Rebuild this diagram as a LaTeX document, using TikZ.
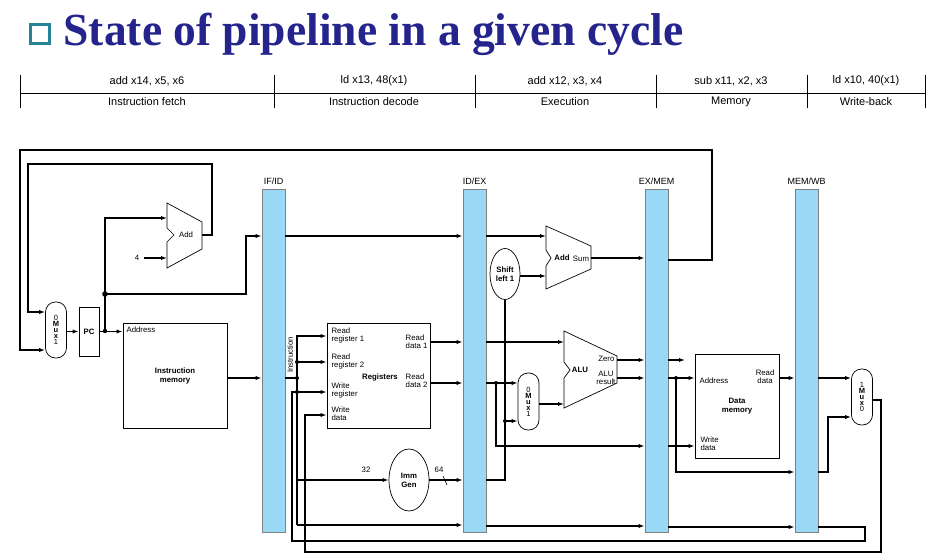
\documentclass[tikz,border=0pt]{standalone}
\usepackage{fontspec}
\setmainfont{Liberation Sans}
\newfontfamily\titlefont{Liberation Serif}
\usetikzlibrary{arrows.meta,positioning,shapes.geometric}
\definecolor{regblue}{RGB}{154,217,245}
\definecolor{titleblue}{RGB}{36,36,140}
\definecolor{boxteal}{RGB}{40,130,150}

\begin{document}
\begin{tikzpicture}[x=1pt,y=-1pt,line width=1.2pt,
  arr/.style={-{Latex[length=6pt,width=4.2pt]}},
  preg/.style={draw=gray,line width=0.6pt,fill=regblue,minimum width=23,minimum height=343,inner sep=0},
  box/.style={draw,line width=0.7pt,inner sep=0},
  mux/.style={draw,line width=0.7pt,rounded corners=10,inner sep=0,minimum width=21,align=center,font=\fontsize{7.5}{8}\selectfont},
  lbl/.style={font=\fontsize{7.8}{8.6}\selectfont,inner sep=0,align=left},
  bl/.style={font=\fontsize{7.8}{8.8}\selectfont\bfseries,inner sep=0,align=center},
  hdr/.style={font=\fontsize{11}{12}\selectfont,inner sep=0}]
\useasboundingbox (0,0) rectangle (940,559);

% title and header
\node[draw=boxteal,line width=3.5pt,minimum size=19,inner sep=0] (sq) at (40,34) {};
\node[anchor=west,text=titleblue,font=\titlefont\fontsize{46}{46}\selectfont\bfseries,xscale=0.99,inner sep=0] (title) at (63,34) {State of pipeline in a given cycle};
\draw[line width=0.7pt] (20,93) -- (925,93);
\foreach \x in {20,274,475,656,807,925}
  \draw[line width=0.7pt] (\x,75) -- (\x,108);
\foreach \x/\t/\s in {147/{add x14, x5, x6}/{Instruction fetch},
                      374/{ld x13, 48(x1)}/{Instruction decode},
                      565/{add x12, x3, x4}/{Execution},
                      731/{sub x11, x2, x3}/{Memory},
                      866/{ld x10, 40(x1)}/{Write-back}}{
  \node[hdr] at (\x,81) {\t};
  \node[hdr] at (\x,102) {\s};
}

% pipeline registers
\node[preg] (ifid)  at (273.5,360.5) {};
\node[preg] (idex)  at (474.5,360.5) {};
\node[preg] (exmem) at (656.5,360.5) {};
\node[preg] (memwb) at (806.5,360.5) {};
\foreach \r/\t in {ifid/{IF/ID},idex/{ID/EX},exmem/{EX/MEM},memwb/{MEM/WB}}
  \node[font=\fontsize{9}{10}\selectfont,above=4pt of \r.north,inner sep=0] {\t};

% fetch stage
\node[mux,minimum height=56] (pcmux) at (56,330) {0\\[-2pt]\textbf{M}\\[-2pt]\textbf{u}\\[-2pt]\textbf{x}\\[-2pt]1};
\node[box,minimum width=20,minimum height=49,font=\fontsize{7.8}{8}\selectfont\bfseries] (pc) at (89,331.5) {PC};
\node[box,minimum width=104,minimum height=105] (imem) at (175,375.5) {};
\node[lbl,anchor=north west] at (126,326) {Address};
\node[bl] at (175,376) {Instruction\\memory};
\draw[line width=0.7pt] (167,203) -- (202,222) -- (202,249) -- (167,268) -- (167,242) -- (174,235) -- (167,228) -- cycle;
\node[lbl] (pcadd) at (186,235) {Add};
\coordinate (pcaddin1) at (167,218);
\coordinate (pcaddin2) at (167,258);
\coordinate (pcaddout) at (202,235);
\node[lbl] (four) at (137,258) {4};

\coordinate (j1) at (105,331);
\coordinate (j2) at (105,294);
\draw[arr] (pcmux.east |- pc) -- (pc.west);
\draw[arr] (pc.east) -- (imem.north west |- pc);
\draw (j1) -- (j2);
\draw[arr] (j2) |- (pcaddin1);
\draw[arr] (j2) -- (246,294) |- (ifid.west |- 0,236);
\fill (j1) circle (2.2) (j2) circle (2.8);
\draw[arr] ([xshift=4]four.east) -- (pcaddin2);
\draw[arr] (pcaddout) -- (212,235) -- (212,164) -- (28,164) |- (pcmux.west |- 0,312);
\draw[arr] (imem.east |- 0,378) -- (ifid.west |- 0,378);

% decode stage
\node[box,minimum width=103,minimum height=105] (regs) at (378.5,375.5) {};
\node[lbl,anchor=north west] at (331,327) {Read\\register 1};
\node[lbl,anchor=north west] at (331,353) {Read\\register 2};
\node[lbl,anchor=north west] at (331,382) {Write\\register};
\node[lbl,anchor=north west] at (331,406) {Write\\data};
\node[lbl,anchor=north east] at (428,334) {Read\\data 1};
\node[lbl,anchor=north east] at (428,373) {Read\\data 2};
\node[bl] at (380,377) {Registers};
\node[draw,ellipse,line width=0.7pt,minimum width=40,minimum height=62,inner sep=0,bl] (imm) at (409,480) {Imm\\Gen};
\node[lbl] at (366,470) {32};
\node[lbl] at (439,470) {64};
\draw[line width=0.6pt] (443,476) -- (447,485);
\node[lbl,rotate=90] at (290,355) {Instruction};

\coordinate (bus) at (297,378);
\draw (ifid.east |- bus) -- (bus);
\draw[arr] (297,525) -- (297,336) -- (regs.west |- 0,336);
\draw[arr] (297,362) -- (regs.west |- 0,362);
\draw[arr] (297,480) -- (imm.west);
\draw[arr] (297,525) -- (idex.west |- 0,525);
\draw[arr] (imm.east) -- (idex.west |- imm);
\draw[arr] (regs.east |- 0,342) -- (idex.west |- 0,342);
\draw[arr] (regs.east |- 0,383) -- (idex.west |- 0,383);
\draw[arr] (ifid.east |- 0,236) -- (idex.west |- 0,236);
\fill (297,362) circle (2) (bus) circle (2) (297,392) circle (2);

% execute stage
\draw[line width=0.7pt] (546,226) -- (591,246) -- (591,269) -- (546,289) -- (546,266) -- (551,258) -- (546,250) -- cycle;
\node[bl] at (562,258) {Add};
\node[lbl] at (581,259) {Sum};
\draw[line width=0.7pt] (564,331) -- (617,356) -- (617,383) -- (564,408) -- (564,378) -- (570,370) -- (564,362) -- cycle;
\node[bl] at (580,370) {ALU};
\node[lbl,anchor=east] at (615,359) {Zero};
\node[lbl,anchor=east,align=center] at (616,378) {ALU\\result};
\node[draw,ellipse,line width=0.7pt,minimum width=30,minimum height=51,inner sep=0,bl] (shl) at (505,274) {Shift\\left 1};
\node[mux,minimum height=57] (alumux) at (528.5,401.5) {0\\[-2pt]\textbf{M}\\[-2pt]\textbf{u}\\[-2pt]\textbf{x}\\[-2pt]1};

\draw[arr] (idex.east |- 0,236) -- (546,236);
\draw[arr] (shl.east |- 0,276) -- (546,276);
\draw[arr] (591,258) -- (exmem.west |- 0,258);
\draw (idex.east |- 0,480) -- (505,480) -- (shl.south);
\draw[arr] (505,421) -- (alumux.west |- 0,421);
\draw[arr] (idex.east |- 0,342) -- (564,342);
\draw[arr] (idex.east |- 0,383) -- (alumux.west |- 0,383);
\draw[arr] (496,383) -- (496,446) -- (exmem.west |- 0,446);
\draw[arr] (alumux.east |- 0,404) -- (564,404);
\draw[arr] (617,360) -- (exmem.west |- 0,360);
\draw[arr] (617,378) -- (exmem.west |- 0,378);
\draw[arr] (idex.east |- 0,526) -- (exmem.west |- 0,526);
\fill (496,383) circle (2) (505,421) circle (2);
\draw[arr] (exmem.east |- 0,260) -- (712,260) -- (712,150) -- (20,150) |- (pcmux.west |- 0,350);

% memory stage
\node[box,minimum width=84,minimum height=104] (dmem) at (737,406) {};
\node[lbl,anchor=west] at (699,381) {Address};
\node[lbl,anchor=north east,align=center] at (775,369) {Read\\data};
\node[bl] at (737,406) {Data\\memory};
\node[lbl,anchor=north west] at (700,436) {Write\\data};
\draw[arr] (exmem.east |- 0,360) -- (685,360);
\draw[arr] (exmem.east |- 0,378) -- (dmem.west |- 0,378);
\draw[arr] (676,378) -- (676,472) -- (memwb.west |- 0,472);
\draw[arr] (exmem.east |- 0,446) -- (dmem.west |- 0,446);
\draw[arr] (dmem.east |- 0,378) -- (memwb.west |- 0,378);
\draw[arr] (exmem.east |- 0,527) -- (memwb.west |- 0,527);
\fill (676,378) circle (2);

% write-back stage
\node[mux,minimum height=56] (wbmux) at (862,397) {1\\[-2pt]\textbf{M}\\[-2pt]\textbf{u}\\[-2pt]\textbf{x}\\[-2pt]0};
\draw[arr] (memwb.east |- 0,378) -- (wbmux.west |- 0,378);
\draw[arr] (memwb.east |- 0,472) -- (828,472) -- (828,417) -- (wbmux.west |- 0,417);
\draw[arr] (wbmux.east |- 0,400) -- (881,400) -- (881,552) -- (305,552) -- (305,415) -- (regs.west |- 0,415);
\draw[arr] (memwb.east |- 0,527) -- (865,527) -- (865,541) -- (292,541) -- (292,392) -- (regs.west |- 0,392);
\end{tikzpicture}
\end{document}
